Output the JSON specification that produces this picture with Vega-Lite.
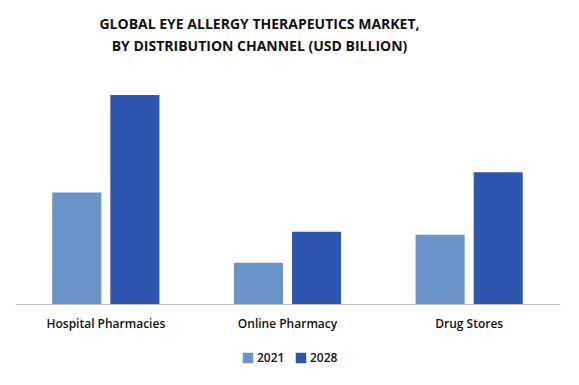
{
  "$schema": "https://vega.github.io/schema/vega-lite/v6.json",
  "autosize": "none",
  "width": 545,
  "height": 209,
  "padding": {"left": 15, "top": 95, "right": 19, "bottom": 81},
  "background": "white",
  "title": {
    "text": ["GLOBAL EYE ALLERGY THERAPEUTICS MARKET,", "BY DISTRIBUTION CHANNEL (USD BILLION)"],
    "anchor": "middle",
    "font": "Open Sans",
    "fontSize": 14,
    "fontWeight": "bold",
    "color": "#111111",
    "lineHeight": 22,
    "offset": 41,
    "dx": -28
  },
  "data": {
    "values": [
      {"channel": "Hospital Pharmacies", "year": "2021", "value": 1.11},
      {"channel": "Hospital Pharmacies", "year": "2028", "value": 2.08},
      {"channel": "Online Pharmacy", "year": "2021", "value": 0.41},
      {"channel": "Online Pharmacy", "year": "2028", "value": 0.72},
      {"channel": "Drug Stores", "year": "2021", "value": 0.69},
      {"channel": "Drug Stores", "year": "2028", "value": 1.31}
    ]
  },
  "mark": {"type": "bar"},
  "encoding": {
    "x": {
      "field": "channel",
      "type": "nominal",
      "sort": ["Hospital Pharmacies", "Online Pharmacy", "Drug Stores"],
      "scale": {"paddingInner": 0.41, "paddingOuter": 0.205},
      "axis": {
        "title": null,
        "labelAngle": 0,
        "labelFont": "Open Sans",
        "labelFontSize": 12,
        "labelFontWeight": 600,
        "labelColor": "#111111",
        "labelPadding": 14,
        "ticks": false,
        "domainColor": "#BFBFBF",
        "domainWidth": 1
      }
    },
    "xOffset": {
      "field": "year",
      "type": "nominal",
      "scale": {"paddingInner": 0.155, "paddingOuter": 0}
    },
    "y": {
      "field": "value",
      "type": "quantitative",
      "scale": {"domain": [0, 2.08], "nice": false},
      "axis": null
    },
    "color": {
      "field": "year",
      "type": "nominal",
      "scale": {"domain": ["2021", "2028"], "range": ["#6A93C8", "#2E56AE"]},
      "legend": {
        "title": null,
        "orient": "none",
        "direction": "horizontal",
        "legendX": 227,
        "legendY": 257,
        "symbolType": "square",
        "symbolSize": 110,
        "symbolStrokeWidth": 0,
        "labelFont": "Open Sans",
        "labelFontSize": 12,
        "labelFontWeight": 600,
        "labelColor": "#111111",
        "labelOffset": 3,
        "columnPadding": 10
      }
    }
  },
  "config": {"view": {"stroke": null}}
}
